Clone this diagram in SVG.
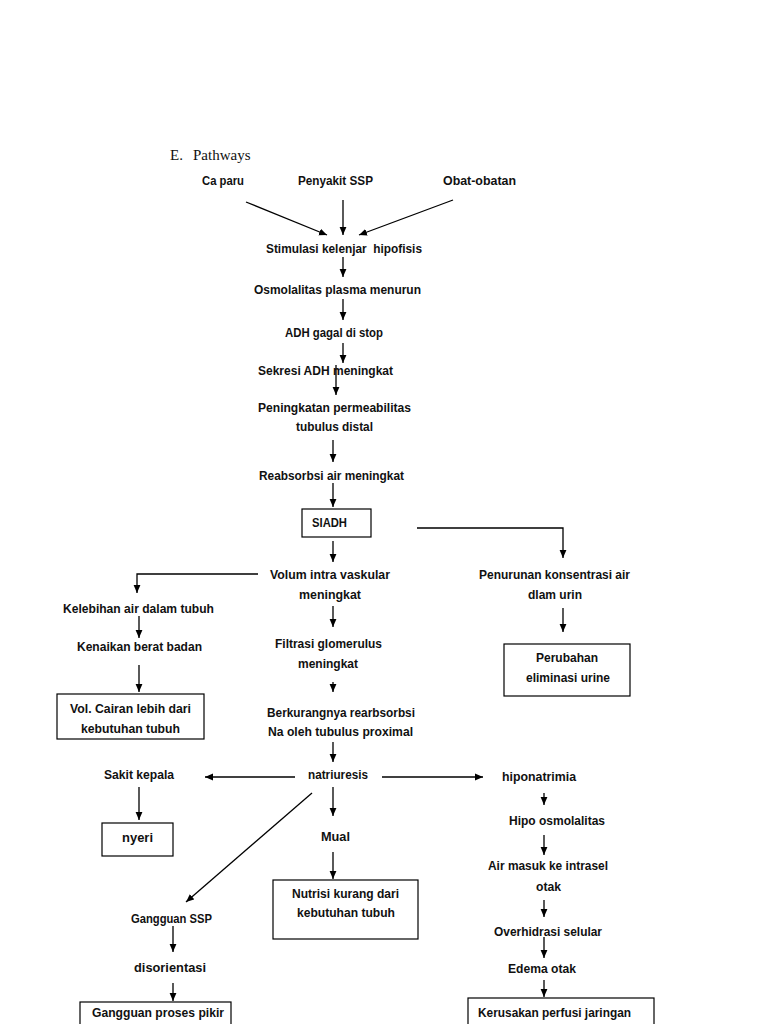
<svg xmlns="http://www.w3.org/2000/svg" width="768" height="1024" viewBox="0 0 768 1024">
<defs>
<marker id="ah" viewBox="0 0 8 8" refX="8" refY="4" markerWidth="8" markerHeight="8" markerUnits="userSpaceOnUse" orient="auto">
<path d="M0,0.6 L8,4 L0,7.4 z" fill="#000"/>
</marker>
<style>
text{font-family:"Liberation Sans",Arial,sans-serif;font-size:13px;font-weight:bold;fill:#111;white-space:pre}
.t{font-family:"Liberation Serif","Times New Roman",serif;font-size:15px;font-weight:normal}
.c line,.c polyline{stroke:#000;stroke-width:1.3;fill:none;marker-end:url(#ah)}
.b{fill:#fff;stroke:#000;stroke-width:1.2}
</style>
</defs>
<rect width="768" height="1024" fill="#fff"/>
<text class="t" x="170" y="160">E.</text>
<text class="t" x="193" y="160">Pathways</text>

<g id="caparu"><text x="202" y="185" textLength="42" lengthAdjust="spacingAndGlyphs">Ca paru</text></g>
<g id="penyakit"><text x="298" y="185" textLength="75" lengthAdjust="spacingAndGlyphs">Penyakit SSP</text></g>
<g id="obat"><text x="443" y="185" textLength="73" lengthAdjust="spacingAndGlyphs">Obat-obatan</text></g>
<g id="stimulasi"><text x="266" y="253" textLength="156" lengthAdjust="spacingAndGlyphs">Stimulasi kelenjar  hipofisis</text></g>
<g id="osmolalitas"><text x="254" y="294" textLength="167" lengthAdjust="spacingAndGlyphs">Osmolalitas plasma menurun</text></g>
<g id="adh"><text x="285" y="337" textLength="98" lengthAdjust="spacingAndGlyphs">ADH gagal di stop</text></g>
<g id="sekresi"><text x="258" y="375" textLength="135" lengthAdjust="spacingAndGlyphs">Sekresi ADH meningkat</text></g>
<g id="peningkatan"><text x="258" y="412" textLength="153" lengthAdjust="spacingAndGlyphs">Peningkatan permeabilitas</text><text x="296" y="431" textLength="77" lengthAdjust="spacingAndGlyphs">tubulus distal</text></g>
<g id="reabsorbsi"><text x="259" y="480" textLength="145" lengthAdjust="spacingAndGlyphs">Reabsorbsi air meningkat</text></g>
<g id="siadh"><rect class="b" x="302" y="509" width="69" height="28"/><text x="312" y="527" textLength="35" lengthAdjust="spacingAndGlyphs">SIADH</text></g>
<g id="volum"><text x="270" y="579" textLength="120" lengthAdjust="spacingAndGlyphs">Volum intra vaskular</text><text x="299" y="599" textLength="62" lengthAdjust="spacingAndGlyphs">meningkat</text></g>
<g id="penurunan"><text x="479" y="579" textLength="151" lengthAdjust="spacingAndGlyphs">Penurunan konsentrasi air</text><text x="528" y="599" textLength="54" lengthAdjust="spacingAndGlyphs">dlam urin</text></g>
<g id="perubahan"><rect class="b" x="504" y="644" width="126" height="52"/><text x="536" y="662" textLength="62" lengthAdjust="spacingAndGlyphs">Perubahan</text><text x="526" y="682" textLength="84" lengthAdjust="spacingAndGlyphs">eliminasi urine</text></g>
<g id="kelebihan"><text x="63" y="613" textLength="151" lengthAdjust="spacingAndGlyphs">Kelebihan air dalam tubuh</text></g>
<g id="kenaikan"><text x="77" y="651" textLength="125" lengthAdjust="spacingAndGlyphs">Kenaikan berat badan</text></g>
<g id="volcairan"><rect class="b" x="57" y="694" width="147" height="45"/><text x="70" y="713" textLength="121" lengthAdjust="spacingAndGlyphs">Vol. Cairan lebih dari</text><text x="81" y="733" textLength="99" lengthAdjust="spacingAndGlyphs">kebutuhan tubuh</text></g>
<g id="filtrasi"><text x="275" y="648" textLength="107" lengthAdjust="spacingAndGlyphs">Filtrasi glomerulus</text><text x="298" y="668" textLength="60" lengthAdjust="spacingAndGlyphs">meningkat</text></g>
<g id="berkurangnya"><text x="267" y="717" textLength="148" lengthAdjust="spacingAndGlyphs">Berkurangnya rearbsorbsi</text><text x="268" y="736" textLength="145" lengthAdjust="spacingAndGlyphs">Na oleh tubulus proximal</text></g>
<g id="natriuresis"><text x="308" y="779" textLength="60" lengthAdjust="spacingAndGlyphs">natriuresis</text></g>
<g id="sakit"><text x="104" y="779" textLength="70" lengthAdjust="spacingAndGlyphs">Sakit kepala</text></g>
<g id="hiponatrimia"><text x="502" y="781" textLength="74" lengthAdjust="spacingAndGlyphs">hiponatrimia</text></g>
<g id="nyeri"><rect class="b" x="102" y="823" width="71" height="33"/><text x="122" y="842" textLength="31" lengthAdjust="spacingAndGlyphs">nyeri</text></g>
<g id="mual"><text x="321" y="841" textLength="29" lengthAdjust="spacingAndGlyphs">Mual</text></g>
<g id="nutrisi"><rect class="b" x="273" y="880" width="145" height="59"/><text x="292" y="898" textLength="107" lengthAdjust="spacingAndGlyphs">Nutrisi kurang dari</text><text x="297" y="917" textLength="98" lengthAdjust="spacingAndGlyphs">kebutuhan tubuh</text></g>
<g id="gangguanssp"><text x="131" y="923" textLength="81" lengthAdjust="spacingAndGlyphs">Gangguan SSP</text></g>
<g id="disorientasi"><text x="134" y="972" textLength="72" lengthAdjust="spacingAndGlyphs">disorientasi</text></g>
<g id="pikir"><rect class="b" x="80" y="1002" width="151" height="40"/><text x="92" y="1017" textLength="132" lengthAdjust="spacingAndGlyphs">Gangguan proses pikir</text></g>
<g id="hipo"><text x="509" y="825" textLength="96" lengthAdjust="spacingAndGlyphs">Hipo osmolalitas</text></g>
<g id="airmasuk"><text x="488" y="870" textLength="120" lengthAdjust="spacingAndGlyphs">Air masuk ke intrasel</text><text x="536" y="891" textLength="25" lengthAdjust="spacingAndGlyphs">otak</text></g>
<g id="overhidrasi"><text x="494" y="936" textLength="108" lengthAdjust="spacingAndGlyphs">Overhidrasi selular</text></g>
<g id="edema"><text x="508" y="973" textLength="68" lengthAdjust="spacingAndGlyphs">Edema otak</text></g>
<g id="kerusakan"><rect class="b" x="468" y="998" width="186" height="40"/><text x="478" y="1017" textLength="153" lengthAdjust="spacingAndGlyphs">Kerusakan perfusi jaringan</text></g>

<g id="connectors" class="c">
<line x1="246" y1="202" x2="327" y2="235"/>
<line x1="343" y1="200" x2="343" y2="235"/>
<line x1="453" y1="200" x2="359" y2="235"/>
<line x1="343" y1="257" x2="343" y2="277"/>
<line x1="343" y1="299" x2="343" y2="320"/>
<line x1="343" y1="343" x2="343" y2="363"/>
<line x1="336" y1="365" x2="336" y2="395"/>
<line x1="333" y1="440" x2="333" y2="462"/>
<line x1="333" y1="483" x2="333" y2="507"/>
<polyline points="417,528 563,528 563,558"/>
<line x1="563" y1="608" x2="563" y2="632"/>
<line x1="333" y1="541" x2="333" y2="562"/>
<polyline points="258,574 137,574 137,593"/>
<line x1="139" y1="616" x2="139" y2="638"/>
<line x1="139" y1="665" x2="139" y2="692"/>
<line x1="333" y1="606" x2="333" y2="627"/>
<line x1="333" y1="682" x2="333" y2="692"/>
<line x1="333" y1="742" x2="333" y2="762"/>
<line x1="295" y1="777" x2="205" y2="777"/>
<line x1="382" y1="777" x2="483" y2="777"/>
<line x1="139" y1="787" x2="139" y2="820"/>
<line x1="333" y1="787" x2="333" y2="816"/>
<line x1="333" y1="852" x2="333" y2="879"/>
<line x1="312" y1="793" x2="186" y2="902"/>
<line x1="173" y1="926" x2="173" y2="952"/>
<line x1="173" y1="983" x2="173" y2="1001"/>
<line x1="544" y1="793" x2="544" y2="805"/>
<line x1="544" y1="835" x2="544" y2="855"/>
<line x1="544" y1="900" x2="544" y2="917"/>
<line x1="544" y1="937" x2="544" y2="958"/>
<line x1="544" y1="980" x2="544" y2="997"/>
</g>
</svg>
